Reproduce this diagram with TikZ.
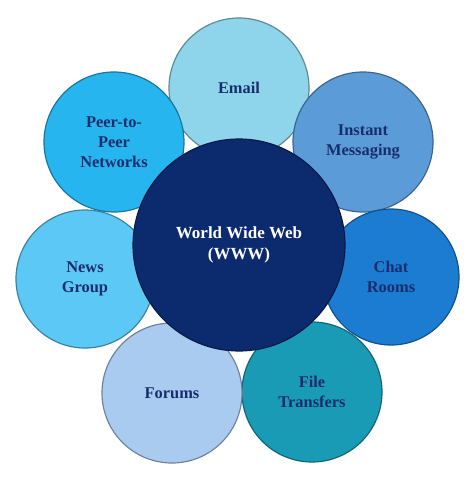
\documentclass[tikz,border=0pt]{standalone}
\usepackage{xcolor}
\usepackage{fontspec}
\setmainfont{Liberation Serif}
\usepackage{tikz}
\definecolor{txtc}{HTML}{182E6C}
\definecolor{wwwc}{HTML}{0C2A6E}
\definecolor{emailc}{HTML}{8ED4EA}
\definecolor{imc}{HTML}{5B9BD8}
\definecolor{chatc}{HTML}{1B7CD2}
\definecolor{filec}{HTML}{1A9BB5}
\definecolor{forumc}{HTML}{A9CBF0}
\definecolor{newsc}{HTML}{5CC8F6}
\definecolor{peerc}{HTML}{26B5EF}
\tikzstyle{every bub node}=[circle,inner sep=0pt,align=center,text=txtc,
  font=\fontsize{14}{17}\selectfont\bfseries]
\tikzset{bub/.style={every bub node,fill=#1,draw=#1!65!black,line width=1pt,
  minimum size=4.2cm}}

\begin{document}
\begin{tikzpicture}[x=0.03cm,y=-0.03cm]
\useasboundingbox (0,0) rectangle (474,479);

  \node[bub=emailc]  (email) at (239,88)  {Email};
  \node[bub=imc]     (im)    at (363,142) {Instant\\Messaging};
  \node[bub=chatc, minimum size=4.08cm] (chat) at (391,277) {Chat\\Rooms};
  \node[bub=filec]   (file)  at (312,392) {File\\Transfers};
  \node[bub=forumc]  (forum) at (172,393) {Forums};
  \node[bub=newsc, minimum size=4.14cm]  (news)  at (85,279)  {News\\Group};
  \node[bub=peerc]   (peer)  at (114,142) {Peer-to-\\Peer\\Networks};

  \node[bub=wwwc, minimum size=6.36cm, text=white,
    font=\fontsize{14.5}{18}\selectfont\bfseries] (www) at (239,245)
    {World Wide Web\\(WWW)};

\end{tikzpicture}
\end{document}
